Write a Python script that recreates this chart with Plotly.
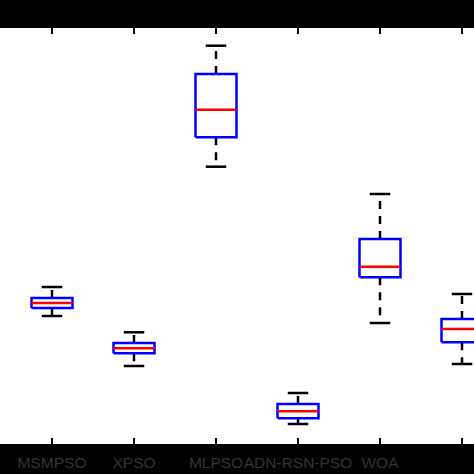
import plotly.graph_objects as go

categories = ["MSMPSO", "XPSO", "MLPSO", "ADN-RSN-PSO", "WOA", "GWO"]
lower_fence = [128.0, 78.0, 277.3, 20.0, 121.0, 80.0]
q1 = [136.0, 90.7, 306.7, 25.7, 166.7, 101.7]
median = [141.0, 95.7, 334.3, 32.7, 177.3, 115.0]
q3 = [146.0, 101.0, 370.0, 40.0, 205.0, 125.0]
upper_fence = [157.0, 111.7, 398.3, 51.0, 250.0, 150.0]

pos = list(range(1, len(categories) + 1))
BW = 0.25
CW = 0.125

bx, by, mx, my, wx, wy, cx, cy = [], [], [], [], [], [], [], []
for i, p in enumerate(pos):
    bx += [p - BW, p + BW, p + BW, p - BW, p - BW, None]
    by += [q1[i], q1[i], q3[i], q3[i], q1[i], None]
    mx += [p - BW, p + BW, None]
    my += [median[i], median[i], None]
    wx += [p, p, None, p, p, None]
    wy += [q3[i], upper_fence[i], None, q1[i], lower_fence[i], None]
    cx += [p - CW, p + CW, None, p - CW, p + CW, None]
    cy += [upper_fence[i], upper_fence[i], None, lower_fence[i], lower_fence[i], None]

fig = go.Figure()
fig.add_trace(go.Scatter(x=wx, y=wy, mode="lines",
                         line=dict(color="black", width=2.5, dash="8px,7px"), hoverinfo="skip"))
fig.add_trace(go.Scatter(x=cx, y=cy, mode="lines",
                         line=dict(color="black", width=2.5), hoverinfo="skip"))
fig.add_trace(go.Scatter(x=bx, y=by, mode="lines",
                         line=dict(color="#0000ff", width=2.5), hoverinfo="skip"))
fig.add_trace(go.Scatter(x=mx, y=my, mode="lines",
                         line=dict(color="#ff0000", width=2.5), hoverinfo="skip"))

fig.update_layout(
    width=474, height=474,
    margin=dict(l=0, r=0, t=28, b=30, autoexpand=False),
    paper_bgcolor="black", plot_bgcolor="white",
    showlegend=False,
    xaxis=dict(range=[1 - 52 / 82, 6 + 12 / 82], tickmode="array", tickvals=pos,
               ticktext=categories, ticks="inside", ticklen=6, tickwidth=1.5,
               tickcolor="black", mirror="ticks", showline=False, showgrid=False,
               zeroline=False, ticklabelstandoff=7, tickangle=0, automargin=False,
               tickfont=dict(family="Liberation Sans, Arial", size=15.5, color="#333333")),
    yaxis=dict(range=[0, 416], showticklabels=False, showgrid=False,
               zeroline=False, ticks="", automargin=False),
)

fig.write_html("out.html", config={"displayModeBar": False},
               post_script="document.body.style.margin='0';document.body.style.background='black';")
